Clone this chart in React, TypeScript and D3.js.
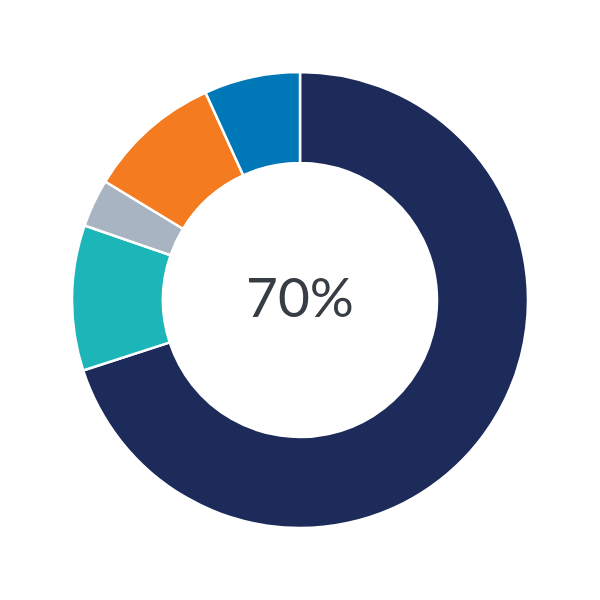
import React from "react";
import * as d3 from "d3";

const categories = ["A", "B", "C", "D", "E"];
const values = [70, 10.3, 3.4, 9.5, 6.8];
const colors = ["#1c2b5a", "#1cb5b8", "#a9b4c2", "#f47b20", "#0077b6"];
const centerLabel = "70%";

export default function App() {
  const width = 600;
  const height = 600;
  const cx = 300;
  const cy = 300;
  const outer = 228;
  const inner = 137;
  const data = categories.map((c, i) => ({ c, v: values[i], color: colors[i] }));
  const pie = d3
    .pie<{ c: string; v: number; color: string }>()
    .sort(null)
    .value((d) => d.v);
  const arc = d3
    .arc<d3.PieArcDatum<{ c: string; v: number; color: string }>>()
    .innerRadius(inner)
    .outerRadius(outer);
  const arcs = pie(data);
  return (
    <svg
      width={width}
      height={height}
      style={{ position: "absolute", left: 0, top: 0, background: "#fff" }}
    >
      <g transform={`translate(${cx},${cy})`}>
        {arcs.map((a) => (
          <path
            key={a.data.c}
            d={arc(a) || ""}
            fill={a.data.color}
            stroke="#fff"
            strokeWidth={2.5}
          />
        ))}
        <text
          x={0}
          y={17}
          textAnchor="middle"
          fontFamily="Lato, 'Open Sans', sans-serif"
          fontWeight={400}
          fontSize={55}
          fill="#373d45"
        >
          {centerLabel}
        </text>
      </g>
    </svg>
  );
}
